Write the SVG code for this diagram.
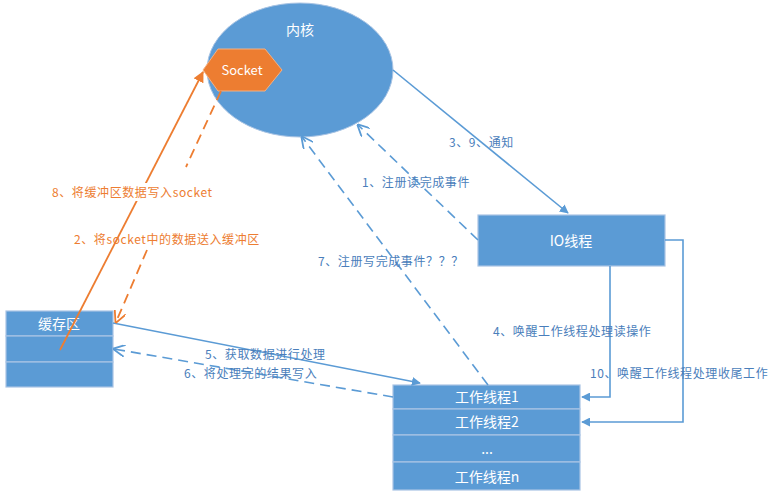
<svg xmlns="http://www.w3.org/2000/svg" width="782" height="498" viewBox="0 0 782 498">
<style>
.box{fill:#5B9BD5;stroke:#A9C4E4;stroke-width:1.2}
.wt{fill:#fff;font-family:"Noto Sans CJK SC","Noto Sans",sans-serif;font-size:14px;text-anchor:middle}
.lb{fill:#4A7EBB;font-family:"Noto Sans CJK SC","Noto Sans",sans-serif;font-size:12px;letter-spacing:0.6px}
.ob{fill:#ED7D31;font-family:"Noto Sans CJK SC","Noto Sans",sans-serif;font-size:12px;letter-spacing:0.6px}
.bl{stroke:#5B9BD5;stroke-width:1.6;fill:none}
.dash{stroke-dasharray:10,6}
.or{stroke:#ED7D31;stroke-width:1.8;fill:none}
</style>
<defs>
<marker id="fb" viewBox="0 0 10 10" refX="9" refY="5" markerWidth="9" markerHeight="9" orient="auto" markerUnits="userSpaceOnUse"><path d="M0,0L10,5L0,10z" fill="#5B9BD5"/></marker>
<marker id="ob" viewBox="0 0 10 10" refX="9" refY="5" markerWidth="12" markerHeight="12" orient="auto" markerUnits="userSpaceOnUse"><path d="M0,0L10,5L0,10" fill="none" stroke="#5B9BD5" stroke-width="1.5"/></marker>
<marker id="fo" viewBox="0 0 10 10" refX="9" refY="5" markerWidth="11" markerHeight="11" orient="auto" markerUnits="userSpaceOnUse"><path d="M0,0L10,5L0,10z" fill="#ED7D31"/></marker>
<marker id="oo" viewBox="0 0 10 10" refX="9" refY="5" markerWidth="12" markerHeight="12" orient="auto" markerUnits="userSpaceOnUse"><path d="M0,0L10,5L0,10" fill="none" stroke="#ED7D31" stroke-width="1.5"/></marker>
</defs>
<rect width="782" height="498" fill="#fff"/>
<g id="kernel">
<ellipse cx="300" cy="70" rx="93" ry="67" fill="#5B9BD5" stroke="#A9C4E4" stroke-width="1"/>
<text class="wt" x="300" y="35">内核</text>
</g>
<g id="socket">
<polygon points="203,70 218,49 265,49 282,70 265,91 218,91" fill="#ED7D31" stroke="#F4B183" stroke-width="1"/>
<text class="wt" x="242" y="75" style="font-size:13px">Socket</text>
</g>
<g id="io">
<rect class="box" x="478" y="215" width="187" height="51"/>
<text class="wt" x="571" y="246">IO线程</text>
</g>
<g id="workers">
<rect class="box" x="393" y="385" width="187" height="24"/>
<rect class="box" x="393" y="409" width="187" height="26"/>
<rect class="box" x="393" y="435" width="187" height="27"/>
<rect class="box" x="393" y="462" width="187" height="28"/>
<text class="wt" x="487" y="402">工作线程1</text>
<text class="wt" x="487" y="427">工作线程2</text>
<text class="wt" x="487" y="454">...</text>
<text class="wt" x="487" y="482">工作线程n</text>
</g>
<g id="cache">
<rect class="box" x="6" y="311" width="107" height="25"/>
<rect class="box" x="6" y="336" width="107" height="26"/>
<rect class="box" x="6" y="362" width="107" height="25"/>
<text class="wt" x="59" y="329">缓存区</text>
</g>
<g id="connectors">
<line class="bl" x1="393" y1="70" x2="568" y2="213" marker-end="url(#fb)"/>
<line class="bl dash" x1="478" y1="240" x2="358" y2="125" marker-end="url(#ob)"/>
<line class="bl dash" x1="488" y1="385" x2="302" y2="137" marker-end="url(#ob)"/>
<polyline class="bl" points="610,266 610,397 582,397" marker-end="url(#fb)"/>
<polyline class="bl" points="665,240 683,240 683,422 582,422" marker-end="url(#fb)"/>
<line class="bl" x1="113" y1="323" x2="420" y2="383" marker-end="url(#fb)"/>
<line class="bl dash" x1="393" y1="397" x2="114" y2="349" marker-end="url(#ob)"/>
<line class="or" x1="60" y1="350" x2="203" y2="72" marker-end="url(#fo)"/>
<line class="or dash" x1="221" y1="91" x2="186" y2="167"/>
<line class="or dash" x1="147" y1="250" x2="116" y2="322" marker-end="url(#oo)"/>
</g>
<rect x="50" y="183" width="166" height="18" fill="#fff"/>
<text class="ob" x="52" y="197">8、将缓冲区数据写入socket</text>
<text class="ob" x="74" y="244">2、将socket中的数据送入缓冲区</text>
<text class="lb" x="362" y="187">1、注册读完成事件</text>
<text class="lb" x="318" y="266">7、注册写完成事件？？？</text>
<text class="lb" x="449" y="147">3、9、通知</text>
<text class="lb" x="493" y="336">4、唤醒工作线程处理读操作</text>
<text class="lb" x="590" y="378">10、唤醒工作线程处理收尾工作</text>
<text class="lb" x="205" y="359">5、获取数据进行处理</text>
<text class="lb" x="184" y="378">6、将处理完的结果写入</text>
</svg>
